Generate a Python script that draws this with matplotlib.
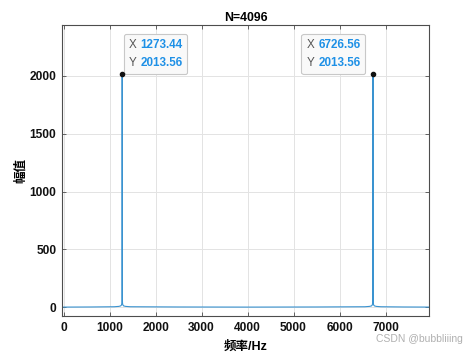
import numpy as np
import matplotlib.pyplot as plt
from matplotlib.offsetbox import TextArea, HPacker, VPacker, AnnotationBbox

plt.rcParams['font.family'] = ['Liberation Sans', 'Noto Sans CJK SC', 'DejaVu Sans']

# spectrum outline (Hz, amplitude)
freq = [0, 600, 1100, 1200, 1240, 1258, 1266, 1270, 1271.5, 1273.44, 1275.4, 1277,
        1281, 1289, 1306, 1350, 1450, 2500, 4000, 5500, 6550, 6650, 6694, 6711,
        6719, 6723, 6724.6, 6726.56, 6728.5, 6730, 6734, 6742, 6760, 6800, 6900,
        7400, 7998]
amp = [2, 3, 5, 8, 12, 20, 35, 80, 250, 2013.56, 250, 80,
       35, 20, 12, 8, 5, 3, 2, 3, 5, 8, 12, 20,
       35, 80, 250, 2013.56, 250, 80, 35, 20, 12, 8, 5,
       3, 2]
peak_x = [1273.44, 6726.56]
peak_y = [2013.56, 2013.56]

xticks = [0, 1000, 2000, 3000, 4000, 5000, 6000, 7000]
yticks = [0, 500, 1000, 1500, 2000]

fig = plt.figure(figsize=(4.74, 3.55), dpi=100)
ax = fig.add_axes([62/474, 1 - 316/355, 367/474, 291/355])

ax.plot(freq, amp, color='#3a93d0', lw=0.8)
ax.plot(peak_x, peak_y, 'o', color='#111111', ms=3, zorder=5)

ax.set_xlim(-35, 7945)
ax.set_ylim(-75, 2440)
ax.set_xticks(xticks)
ax.set_yticks(yticks)
ax.grid(True, color='#e3e3e3', lw=0.7)
ax.set_axisbelow(True)
for s in ax.spines.values():
    s.set_color('#4d4d4d')
    s.set_linewidth(0.8)
ax.tick_params(direction='in', length=3, width=0.6, colors='#4d4d4d',
               top=True, right=True, labelsize=8.6, labelcolor='#111111', pad=4)
for lab in ax.get_xticklabels() + ax.get_yticklabels():
    lab.set_fontweight('bold')

ax.set_title('N=4096', fontsize=8.8, fontweight='bold', pad=3)
ax.set_xlabel('频率/Hz', fontsize=9, fontweight='bold', labelpad=5)
ax.set_ylabel('幅值', fontsize=9, fontweight='bold', labelpad=2)


def data_tip(px, py, align, dx):
    rows = []
    for name, val in [('X', px), ('Y', py)]:
        rows.append(HPacker(children=[
            TextArea(name, textprops=dict(fontsize=8.4, color='#555555')),
            TextArea(f'{val:.2f}', textprops=dict(fontsize=8.4, color='#1e90e6',
                                                  fontweight='bold'))],
            sep=3, pad=0, align='baseline'))
    box = VPacker(children=rows, sep=4.5, pad=0, align='left')
    ab = AnnotationBbox(box, (px, py), xybox=(dx, 4), xycoords='data',
                        boxcoords='offset points', box_alignment=(align, 0),
                        pad=0.35, frameon=True,
                        bboxprops=dict(boxstyle='round,pad=0.35,rounding_size=0.15',
                                       fc='#f9f9f9', ec='#c8c8c8', lw=0.8))
    ax.add_artist(ab)


data_tip(peak_x[0], peak_y[0], 0, 4.5)
data_tip(peak_x[1], peak_y[1], 1, -9)

fig.text(0.977, 0.045, 'CSDN @bubbliiing', ha='right', va='center', fontsize=7.5,
         color='#b0b0b0')

fig.savefig('out.png', dpi=100)
